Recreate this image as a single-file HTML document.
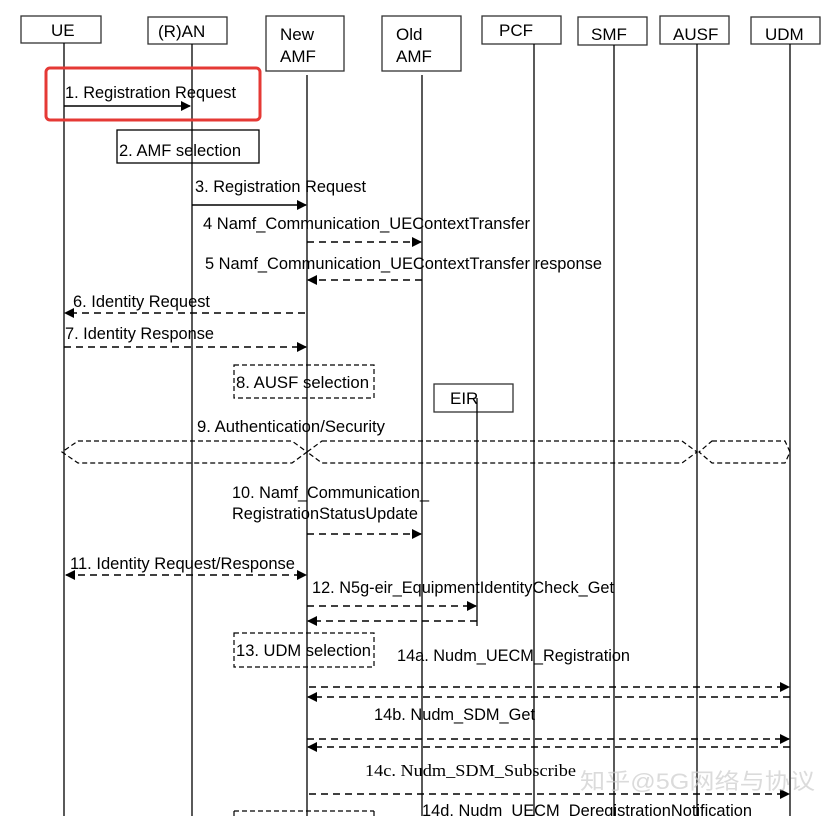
<!DOCTYPE html>
<html><head><meta charset="utf-8"><style>
html,body{margin:0;padding:0;background:#fff;}
svg{display:block;}
text{font-family:"Liberation Sans",sans-serif;font-size:17px;fill:#000;}
.s{font-family:"Liberation Serif",serif;}
</style></head><body>
<svg width="836" height="816" viewBox="0 0 836 816" xmlns="http://www.w3.org/2000/svg">
<defs>
<marker id="a" markerWidth="10" markerHeight="10" refX="9" refY="5" orient="auto" markerUnits="userSpaceOnUse"><path d="M0,0 L10,5 L0,10 z" fill="#000"/></marker>
<marker id="b" markerWidth="10" markerHeight="10" refX="1" refY="5" orient="auto" markerUnits="userSpaceOnUse"><path d="M10,0 L0,5 L10,10 z" fill="#000"/></marker>
</defs>
<g stroke="#333" stroke-width="1.3" fill="#fff">
<rect x="21" y="16" width="80" height="27"/>
<rect x="148" y="17" width="79" height="27"/>
<rect x="266" y="16" width="78" height="55"/>
<rect x="382" y="16" width="79" height="55"/>
<rect x="482" y="16" width="79" height="28"/>
<rect x="578" y="17" width="69" height="28"/>
<rect x="660" y="16" width="69" height="28"/>
<rect x="751" y="17" width="69" height="27"/>
</g>
<g stroke="#000" stroke-width="1.3">
<line x1="64" y1="43" x2="64" y2="816"/>
<line x1="192" y1="44" x2="192" y2="816"/>
<line x1="307" y1="75" x2="307" y2="816"/>
<line x1="422" y1="75" x2="422" y2="816"/>
<line x1="534" y1="44" x2="534" y2="816"/>
<line x1="614" y1="45" x2="614" y2="816"/>
<line x1="697" y1="44" x2="697" y2="816"/>
<line x1="790" y1="44" x2="790" y2="816"/>
</g>
<text x="51" y="36">UE</text>
<text x="158" y="37">(R)AN</text>
<text x="280" y="40">New</text><text x="280" y="62">AMF</text>
<text x="396" y="40">Old</text><text x="396" y="62">AMF</text>
<text x="499" y="36">PCF</text>
<text x="591" y="40">SMF</text>
<text x="673" y="40">AUSF</text>
<text x="765" y="40">UDM</text>

<rect x="46" y="68" width="214" height="52" rx="4" fill="none" stroke="#e53935" stroke-width="3"/>
<text x="65" y="98" textLength="171" lengthAdjust="spacingAndGlyphs">1. Registration Request</text>
<line x1="64" y1="106" x2="190" y2="106" stroke="#000" stroke-width="1.5" marker-end="url(#a)"/>

<rect x="117" y="130" width="142" height="33" fill="none" stroke="#000" stroke-width="1.3"/>
<text x="119" y="156" textLength="122" lengthAdjust="spacingAndGlyphs">2. AMF selection</text>

<text x="195" y="192" textLength="171" lengthAdjust="spacingAndGlyphs">3. Registration Request</text>
<line x1="192" y1="205" x2="306" y2="205" stroke="#000" stroke-width="1.5" marker-end="url(#a)"/>

<g stroke="#000" stroke-width="1.6" stroke-dasharray="7,5" fill="none">
<line x1="307" y1="242" x2="421" y2="242" marker-end="url(#a)"/>
<line x1="422" y1="280" x2="308" y2="280" marker-end="url(#a)"/>
<line x1="305" y1="313" x2="65" y2="313" marker-end="url(#a)"/>
<line x1="64" y1="347" x2="306" y2="347" marker-end="url(#a)"/>
<line x1="307" y1="534" x2="421" y2="534" marker-end="url(#a)"/>
<line x1="66" y1="575" x2="306" y2="575" marker-start="url(#b)" marker-end="url(#a)"/>
<line x1="307" y1="606" x2="476" y2="606" marker-end="url(#a)"/>
<line x1="477" y1="621" x2="308" y2="621" marker-end="url(#a)"/>
<line x1="309" y1="687" x2="789" y2="687" marker-end="url(#a)"/>
<line x1="790" y1="697" x2="308" y2="697" marker-end="url(#a)"/>
<line x1="307" y1="739" x2="789" y2="739" marker-end="url(#a)"/>
<line x1="790" y1="747" x2="308" y2="747" marker-end="url(#a)"/>
<line x1="309" y1="794" x2="789" y2="794" marker-end="url(#a)"/>
</g>
<text x="203" y="229" textLength="327" lengthAdjust="spacingAndGlyphs">4 Namf_Communication_UEContextTransfer</text>
<text x="205" y="269" textLength="397" lengthAdjust="spacingAndGlyphs">5 Namf_Communication_UEContextTransfer response</text>
<text x="73" y="307" textLength="137" lengthAdjust="spacingAndGlyphs">6. Identity Request</text>
<text x="65" y="339" textLength="149" lengthAdjust="spacingAndGlyphs">7. Identity Response</text>

<rect x="234" y="365" width="140" height="33" fill="none" stroke="#000" stroke-width="1.2" stroke-dasharray="5,3"/>
<text x="236" y="388" textLength="133" lengthAdjust="spacingAndGlyphs">8. AUSF selection</text>

<rect x="434" y="384" width="79" height="28" fill="#fff" stroke="#333" stroke-width="1.3"/>
<text x="450" y="404">EIR</text>
<line x1="477" y1="398" x2="477" y2="626" stroke="#000" stroke-width="1.3"/>

<text x="197" y="432" textLength="188" lengthAdjust="spacingAndGlyphs">9. Authentication/Security</text>
<g stroke="#000" stroke-width="1.2" stroke-dasharray="5,3" fill="none">
<path d="M78,441 L292,441 L307,452 L292,463 L78,463 L62,452 Z"/>
<path d="M322,441 L682,441 L697,452 L682,463 L322,463 L307,452 Z"/>
<path d="M712,441 L785,441 L790,452 L785,463 L712,463 L699,452 Z"/>
</g>

<text x="232" y="498" textLength="197" lengthAdjust="spacingAndGlyphs">10. Namf_Communication_</text>
<text x="232" y="519" textLength="186" lengthAdjust="spacingAndGlyphs">RegistrationStatusUpdate</text>
<text x="70" y="569" textLength="225" lengthAdjust="spacingAndGlyphs">11. Identity Request/Response</text>
<text x="312" y="593" textLength="302" lengthAdjust="spacingAndGlyphs">12. N5g-eir_EquipmentIdentityCheck_Get</text>

<rect x="234" y="633" width="140" height="34" fill="none" stroke="#000" stroke-width="1.2" stroke-dasharray="5,3"/>
<text x="236" y="656" textLength="135" lengthAdjust="spacingAndGlyphs">13. UDM selection</text>
<text x="397" y="661" textLength="233" lengthAdjust="spacingAndGlyphs">14a. Nudm_UECM_Registration</text>
<text x="374" y="720" textLength="161" lengthAdjust="spacingAndGlyphs">14b. Nudm_SDM_Get</text>
<text class="s" x="365" y="776" textLength="211" lengthAdjust="spacingAndGlyphs">14c. Nudm_SDM_Subscribe</text>
<text x="422" y="816" textLength="330" lengthAdjust="spacingAndGlyphs">14d. Nudm_UECM_DeregistrationNotification</text>
<line x1="234" y1="811" x2="374" y2="811" stroke="#000" stroke-width="1.2" stroke-dasharray="5,3"/>
<line x1="234" y1="811" x2="234" y2="816" stroke="#000" stroke-width="1.2"/>
<line x1="374" y1="811" x2="374" y2="816" stroke="#000" stroke-width="1.2"/>

<text x="580" y="789" style="font-family:'Liberation Sans','Noto Sans CJK SC',sans-serif;font-size:22px;fill:#ccc;opacity:0.7" textLength="235" lengthAdjust="spacingAndGlyphs">知乎@5G网络与协议</text>
</svg>
</body></html>
